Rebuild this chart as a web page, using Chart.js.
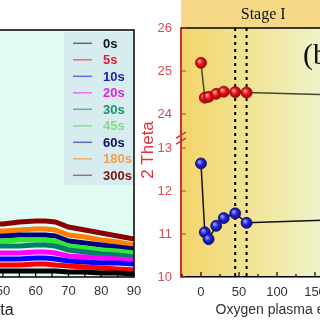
<!DOCTYPE html>
<html>
<head>
<meta charset="utf-8">
<script src="https://cdn.jsdelivr.net/npm/chart.js@4.4.0/dist/chart.umd.min.js"></script>
<style>
  html, body { margin: 0; padding: 0; width: 320px; height: 320px; overflow: hidden; background: #fff; }
  #graph--xrd { position: absolute; left: -178px; top: 0; }
  #graph--theta { position: absolute; left: 130px; top: 0; }
</style>
</head>
<body>
<canvas id="graph--xrd" width="328" height="320"></canvas>
<canvas id="graph--theta" width="340" height="320"></canvas>
<script>
// Left panel: spectra for each exposure time (intensity in a.u., stacked)
const times = ['0s', '5s', '10s', '20s', '30s', '45s', '60s', '180s', '300s']
const lineColors = ['#000000', '#ff0000', '#0000ff', '#ff00ff', '#00806a', '#33e633', '#00007a', '#ff8000', '#8b0000']
const textColors = ['#111111', '#e0202c', '#1c1cb0', '#e020e0', '#1f8f6f', '#7ee07e', '#101060', '#f0a050', '#7a1414']
const theta = [45, 50, 55, 60, 63, 66, 70, 75, 80, 85, 90]
const i0s = [6, 6, 6, 6, 6, 6, 5, 5, 4, 4, 3]
const i5s = [12, 12, 12, 13, 13, 12, 11, 10, 9, 8, 7]
const i10s = [18, 18, 18, 19, 19, 18, 16, 15, 14, 14, 13]
const i20s = [24, 24, 24, 25, 25, 24, 21, 20, 19, 18, 17]
const i30s = [31, 31, 31, 32, 32, 31, 27, 25, 23, 22, 20]
const i45s = [36, 36, 37, 37, 37, 36, 31, 29, 27, 26, 24]
const i60s = [41, 41, 42, 42, 42, 41, 36, 34, 32, 30, 28]
const i180s = [46, 46, 47, 48, 48, 47, 42, 40, 37, 35, 32]
const i300s = [53, 53, 55, 56, 56, 55, 50, 47, 44, 41, 38]
const intensities = [i0s, i5s, i10s, i20s, i30s, i45s, i60s, i180s, i300s]

// Right panel: peak positions vs exposure time
const exposure = [0, 5, 10, 20, 30, 45, 60, 180, 300]
const peakHigh = [25.19, 24.38, 24.40, 24.47, 24.52, 24.51, 24.50, 24.44, 24.42]
const peakLow = [12.64, 11.04, 10.88, 11.19, 11.37, 11.48, 11.26, 11.33, 11.36]
const markers = [45, 60]
const stages = [{ label: 'Stage I', from: -26.3, to: 190 }]

Chart.defaults.font.family = '"Liberation Sans", Arial, sans-serif'

function inwardTicks(ctx, scale, values, len, color, horizontal) {
  ctx.strokeStyle = color
  ctx.lineWidth = 1.2
  ctx.beginPath()
  values.forEach(v => {
    const p = scale.getPixelForValue(v)
    if (horizontal) {
      ctx.moveTo(p, scale.top); ctx.lineTo(p, scale.top - len)
    } else {
      ctx.moveTo(scale.right, p); ctx.lineTo(scale.right + len, p)
    }
  })
  ctx.stroke()
}

const xrdFrame = {
  id: 'xrdFrame',
  beforeDraw(chart) {
    const { ctx, chartArea: a } = chart
    ctx.save()
    ctx.fillStyle = '#dffbf4'
    ctx.fillRect(a.left, a.top, a.width, a.height)
    ctx.fillStyle = '#d6ecee'
    ctx.fillRect(a.right - 70, a.top + 2, 70, 153)
    ctx.restore()
  },
  afterDraw(chart) {
    const { ctx, chartArea: a } = chart
    ctx.save()
    // legend
    chart.data.datasets.forEach((ds, i) => {
      const y = a.top + 13.3 + i * 16.5
      ctx.strokeStyle = ds.borderColor
      ctx.globalAlpha = 0.55
      ctx.lineWidth = 1.5
      ctx.beginPath(); ctx.moveTo(a.right - 61, y); ctx.lineTo(a.right - 42, y); ctx.stroke()
      ctx.globalAlpha = 1
      ctx.fillStyle = textColors[i]
      ctx.font = 'bold 13px "Liberation Sans", Arial, sans-serif'
      ctx.textBaseline = 'middle'
      ctx.fillText(ds.label, a.right - 31, y + 1)
    })
    // frame
    ctx.strokeStyle = '#000'
    ctx.lineWidth = 1.5
    ctx.strokeRect(a.left, a.top, a.width, a.height)
    const ticks = []
    for (let v = 0; v <= 90; v += 5) ticks.push(v)
    inwardTicks(ctx, chart.scales.x, ticks, 4, '#000', true)
    ctx.restore()
  }
}

const thetaFrame = {
  id: 'thetaFrame',
  beforeDraw(chart) {
    const { ctx, chartArea: a, scales } = chart
    ctx.save()
    // stage header band
    ctx.fillStyle = '#f6d887'
    ctx.fillRect(a.left, 0, a.width, a.top)
    // plot background
    const g = ctx.createLinearGradient(a.left, 0, a.right, 0)
    g.addColorStop(0, '#f4d46a')
    g.addColorStop(0.25, '#f1e496')
    g.addColorStop(0.5, '#eff2c9')
    g.addColorStop(1, '#f6f9e6')
    ctx.fillStyle = g
    ctx.fillRect(a.left, a.top, a.width, a.height)
    // stage labels
    ctx.fillStyle = '#111'
    ctx.font = '16px "Liberation Serif", "Times New Roman", serif'
    ctx.textAlign = 'center'
    ctx.textBaseline = 'middle'
    stages.forEach(s => {
      const x0 = Math.max(scales.x.getPixelForValue(s.from), a.left)
      const x1 = scales.x.getPixelForValue(s.to)
      ctx.fillText(s.label, (x0 + x1) / 2, a.top / 2 + 1)
    })
    ctx.restore()
  },
  beforeDatasetsDraw(chart) {
    const { ctx, chartArea: a, scales } = chart
    ctx.save()
    ctx.strokeStyle = '#000'
    ctx.lineWidth = 2
    ctx.setLineDash([3, 4])
    markers.forEach(m => {
      const x = scales.x.getPixelForValue(m)
      ctx.beginPath(); ctx.moveTo(x, a.top); ctx.lineTo(x, a.bottom); ctx.stroke()
    })
    ctx.restore()
  },
  afterDraw(chart) {
    const { ctx, chartArea: a, scales } = chart
    ctx.save()
    // top border
    ctx.strokeStyle = '#000'
    ctx.lineWidth = 1.5
    ctx.beginPath(); ctx.moveTo(a.left, a.top); ctx.lineTo(a.right, a.top); ctx.stroke()
    // tick marks
    inwardTicks(ctx, scales.x, [0, 50, 100, 150, 200, 250, 300], 5, '#000', true)
    inwardTicks(ctx, scales.x, [-25, 25, 75, 125, 175, 225, 275, 325], 3, '#000', true)
    inwardTicks(ctx, scales.yTop, [24, 25, 26], 5, '#c8323a', false)
    inwardTicks(ctx, scales.yBot, [10, 11, 12, 13], 5, '#c8323a', false)
    // axis break
    const yb = scales.yTop.bottom
    ctx.strokeStyle = '#d0303a'
    ctx.lineWidth = 1.5
    ;[-3, 3].forEach(d => {
      ctx.beginPath(); ctx.moveTo(a.left - 5, yb + d + 3); ctx.lineTo(a.left + 5, yb + d - 3); ctx.stroke()
    })
    // y title
    ctx.fillStyle = '#e0303a'
    ctx.font = '17px "Liberation Sans", Arial, sans-serif'
    ctx.translate(18, 150)
    ctx.rotate(-Math.PI / 2)
    ctx.textAlign = 'center'
    ctx.textBaseline = 'middle'
    ctx.fillText('2 Theta', 0, 0)
    ctx.restore()
    // panel tag
    ctx.save()
    ctx.fillStyle = '#111'
    ctx.font = '30px "Liberation Serif", "Times New Roman", serif'
    ctx.textBaseline = 'middle'
    ctx.fillText('(b)', a.left + 122, 56)
    ctx.restore()
  }
}

function sphere(light, mid, dark, axisID) {
  return (c) => {
    const chart = c.chart
    if (!c.parsed || !chart.scales || !chart.scales[axisID] || !chart.scales.x) return mid
    const x = chart.scales.x.getPixelForValue(c.parsed.x)
    const y = chart.scales[axisID].getPixelForValue(c.parsed.y)
    if (!isFinite(x) || !isFinite(y)) return mid
    const g = chart.ctx.createRadialGradient(x - 1.8, y - 1.8, 0.5, x, y, 6)
    g.addColorStop(0, light)
    g.addColorStop(0.45, mid)
    g.addColorStop(1, dark)
    return g
  }
}

const xrdChart = new Chart(document.querySelector('#graph--xrd'), {
  type: 'line',
  data: {
    datasets: times.map((t, i) => ({
      label: t,
      data: theta.map((x, j) => ({ x: x, y: intensities[i][j] })),
      borderColor: lineColors[i],
      borderWidth: 5,
      pointRadius: 0,
      fill: false
    }))
  },
  options: {
    responsive: false,
    animation: false,
    layout: { padding: { left: 17, right: 16, top: 30, bottom: 0 }, autoPadding: false },
    plugins: { legend: { display: false }, tooltip: { enabled: false } },
    scales: {
      x: {
        type: 'linear', min: 0, max: 90,
        ticks: { stepSize: 10, color: '#333', font: { size: 13 }, padding: 7 },
        grid: { display: false, drawTicks: false },
        border: { display: false },
        title: { display: true, text: '2 Theta', color: '#222', font: { size: 16 }, padding: 0 },
        afterFit: s => { s.height = 43 }
      },
      y: { display: false, min: 0, max: 247 }
    }
  },
  plugins: [xrdFrame]
})

const thetaChart = new Chart(document.querySelector('#graph--theta'), {
  type: 'line',
  data: {
    datasets: [
      {
        label: 'Peak 1',
        data: exposure.map((x, i) => ({ x: x, y: peakLow[i] })),
        yAxisID: 'yBot',
        borderColor: '#111',
        borderWidth: 1.5,
        pointRadius: 5.5,
        pointBackgroundColor: sphere('#9a9aff', '#2323d8', '#0c0c70', 'yBot'),
        pointBorderColor: '#10106a',
        pointBorderWidth: 0.8
      },
      {
        label: 'Peak 2',
        data: exposure.map((x, i) => ({ x: x, y: peakHigh[i] })),
        yAxisID: 'yTop',
        borderColor: '#3d4a2c',
        borderWidth: 1.5,
        pointRadius: 5.5,
        pointBackgroundColor: sphere('#ff9a9a', '#e81414', '#8a0000', 'yTop'),
        pointBorderColor: '#9a0a0a',
        pointBorderWidth: 0.8
      }
    ]
  },
  options: {
    responsive: false,
    animation: false,
    layout: { padding: { left: 0, right: 10.6, top: 28, bottom: 0 }, autoPadding: false },
    plugins: { legend: { display: false }, tooltip: { enabled: false } },
    scales: {
      x: {
        type: 'linear', min: -26.3, max: 340,
        ticks: { stepSize: 50, includeBounds: false, color: '#333', font: { size: 13 }, padding: 8 },
        grid: { display: false, drawTicks: false },
        border: { color: '#000', width: 1.5 },
        title: { display: true, text: 'Oxygen plasma exposure time (s)', color: '#333', font: { size: 14 }, padding: { top: 0, bottom: 1 } },
        afterFit: s => { s.height = 43 }
      },
      yBot: {
        type: 'linear', position: 'left', stack: 'theta', stackWeight: 3.23,
        min: 10, max: 13.23,
        ticks: { stepSize: 1, includeBounds: false, color: '#d84a55', font: { size: 13 }, padding: 9 },
        grid: { display: false, drawTicks: false },
        border: { color: '#c8323a', width: 2 },
        afterFit: s => { s.width = 51 }
      },
      yTop: {
        type: 'linear', position: 'left', stack: 'theta', stackWeight: 2.56,
        min: 23.44, max: 26,
        ticks: { stepSize: 1, includeBounds: false, color: '#d84a55', font: { size: 13 }, padding: 9 },
        grid: { display: false, drawTicks: false },
        border: { color: '#c8323a', width: 2 },
        afterFit: s => { s.width = 51 }
      }
    }
  },
  plugins: [thetaFrame]
})
</script>
</body>
</html>
